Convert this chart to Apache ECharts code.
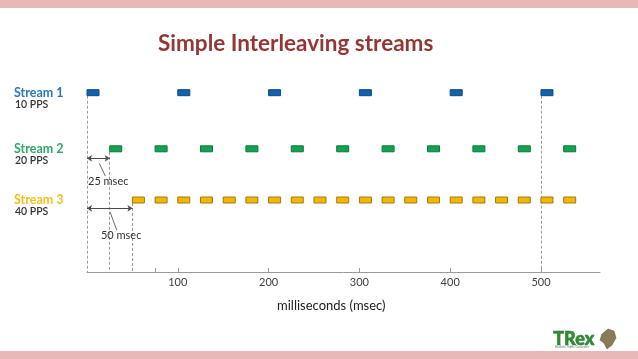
<!DOCTYPE html>
<html>
<head>
<meta charset="utf-8">
<script src="https://cdn.jsdelivr.net/npm/echarts@6/dist/echarts.min.js"></script>
<style>html,body{margin:0;padding:0;background:#fff;}#c{width:638px;height:359px;}</style>
</head>
<body>
<div id="c"></div>
<script>
// ---- data ----
const streamNames = ['Stream 1', 'Stream 2', 'Stream 3'];
const streamRates = ['10 PPS', '20 PPS', '40 PPS'];
const stream1 = [0, 100, 200, 300, 400, 500];
const stream2 = [25, 75, 125, 175, 225, 275, 325, 375, 425, 475, 525];
const stream3 = [50, 75, 100, 125, 150, 175, 200, 225, 250, 275, 300, 325, 350, 375, 400, 425, 450, 475, 500, 525];
const tickLabels = [100, 200, 300, 400, 500];
const tickMarks = [75, 100, 200, 300, 400, 500];
const offsetValues = [25, 50];
const offsetLabels = ['25 msec', '50 msec'];
const guideTimes = [0, 500];
const title = 'Simple Interleaving streams';
const xName = 'milliseconds (msec)';

// ---- layout / style ----
const rowLevel = [179.3, 123.2, 72];       // height of each stream row above the axis (y units)
const fills = ['#1262AE', '#13A152', '#F2B705'];
const borders = ['#0B4A85', '#0C7A3B', '#A07A10'];
const labelColors = ['#2C78B7', '#2DA96A', '#F3C11C'];
const BAR_W = 12, BAR_H = 6;
const arrowLevel = [113.7, 63.7];
const leaders = [[[13.5, 108.7], [20.2, 96]], [[25.3, 60.3], [32.7, 42]]];
const labelPos = [[1.1, 91], [15.4, 37]];
const FONT = 'Lato, "Open Sans", sans-serif';

const chart = echarts.init(document.getElementById('c'), null, {renderer: 'canvas'});

function barSeries(idx, times) {
  return {
    type: 'custom',
    data: times.map(t => [t, rowLevel[idx]]),
    renderItem: function (params, api) {
      const p = api.coord([api.value(0), api.value(1)]);
      return {
        type: 'rect',
        shape: {x: p[0], y: p[1] - BAR_H / 2, width: BAR_W, height: BAR_H},
        style: {fill: fills[idx], stroke: borders[idx], lineWidth: 1}
      };
    },
    z: 5
  };
}

const guideData = [];
guideTimes.forEach(t => guideData.push({coords: [[t, rowLevel[0] - BAR_H / 2], [t, 0]]}));
offsetValues.forEach((t, i) => guideData.push({coords: [[t, rowLevel[i + 1] - BAR_H / 2], [t, 0]]}));

const arrowData = offsetValues.map((t, i) => ({coords: [[0, arrowLevel[i]], [t, arrowLevel[i]]]}));
const leaderData = leaders.map(l => ({coords: l}));

const option = {
  animation: false,
  backgroundColor: '#ffffff',
  grid: {left: 87, right: 38, top: 72, bottom: 87},
  xAxis: {
    type: 'value', min: 0, max: 565,
    axisLine: {show: true, lineStyle: {color: '#9a9a9a', width: 1}},
    axisTick: {show: true, inside: true, length: 4, lineStyle: {color: '#9a9a9a'}, customValues: tickMarks},
    axisLabel: {fontFamily: FONT, fontSize: 11, color: '#404040', margin: 5, customValues: tickLabels},
    splitLine: {show: false}
  },
  yAxis: {type: 'value', min: 0, max: 200, show: false},
  series: [
    {
      type: 'lines', coordinateSystem: 'cartesian2d',
      data: guideData, symbol: 'none',
      lineStyle: {color: '#9c9c9c', width: 1, type: [3, 2], opacity: 1}, z: 2, silent: true
    },
    {
      type: 'lines', coordinateSystem: 'cartesian2d',
      data: arrowData, symbol: ['arrow', 'arrow'], symbolSize: 5,
      lineStyle: {color: '#4a4a4a', width: 1, opacity: 1}, z: 3, silent: true
    },
    {
      type: 'lines', coordinateSystem: 'cartesian2d',
      data: leaderData, symbol: 'none',
      lineStyle: {color: '#6a6a6a', width: 1, opacity: 1}, z: 3, silent: true
    },
    {
      type: 'custom',
      data: offsetLabels.map((s, i) => [labelPos[i][0], labelPos[i][1]]),
      renderItem: function (params, api) {
        const p = api.coord([api.value(0), api.value(1)]);
        return {
          type: 'text',
          style: {x: p[0], y: p[1], text: offsetLabels[params.dataIndex], fill: '#333', font: '11px ' + FONT,
                  textAlign: 'left', textVerticalAlign: 'middle'}
        };
      },
      z: 4
    },
    {
      type: 'custom',
      data: streamNames.map((s, i) => [0, rowLevel[i]]),
      renderItem: function (params, api) {
        const p = api.coord([api.value(0), api.value(1)]);
        const i = params.dataIndex;
        return {
          type: 'group',
          children: [
            {type: 'text', style: {x: 14, y: p[1], text: streamNames[i], fill: labelColors[i],
              font: 'bold 12.5px ' + FONT, textAlign: 'left', textVerticalAlign: 'middle'}},
            {type: 'text', style: {x: 15, y: p[1] + 12, text: streamRates[i], fill: '#333',
              font: '600 10.5px ' + FONT, textAlign: 'left', textVerticalAlign: 'middle'}}
          ]
        };
      },
      z: 4
    },
    barSeries(0, stream1),
    barSeries(1, stream2),
    barSeries(2, stream3)
  ],
  graphic: [
    {type: 'rect', left: 0, top: 0, shape: {width: 638, height: 8}, style: {fill: '#E8B7B7'}},
    {type: 'rect', left: 0, top: 351, shape: {width: 638, height: 8}, style: {fill: '#E8B7B7'}},
    {type: 'text', left: 158, top: 32, style: {text: title, fill: '#943634', font: 'bold 22.5px ' + FONT}},
    {type: 'text', left: 277, top: 299, style: {text: xName, fill: '#222', font: '13px ' + FONT}},
    {type: 'text', left: 553, top: 330, style: {text: 'TRex', fill: '#2E8B34', font: '900 18px ' + FONT,
      stroke: '#1d5e22', lineWidth: 0.5}},
    {type: 'text', left: 555, top: 346, style: {text: 'Realistic Traffic Generator', fill: '#5a7a5a', font: '3px ' + FONT}},
    {type: 'polygon', shape: {points: [[602, 334], [608, 329], [614, 331], [616, 338], [612, 345], [607, 349], [604, 343], [600, 340]]},
      style: {fill: '#8a7a5c', stroke: '#5e5138', lineWidth: 0.5}}
  ]
};
chart.setOption(option);
</script>
</body>
</html>
